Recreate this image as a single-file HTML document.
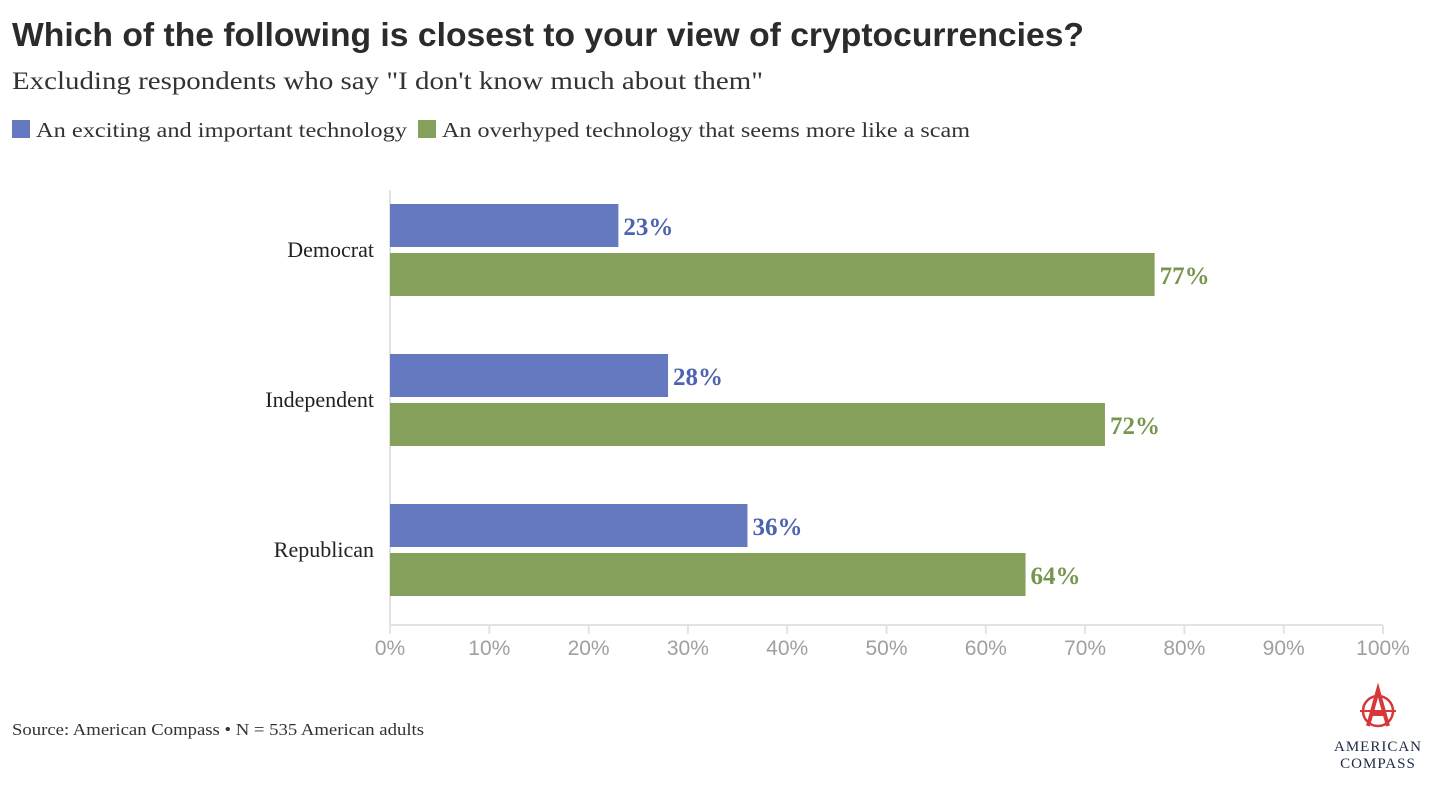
<!DOCTYPE html>
<html><head><meta charset="utf-8"><style>
body{margin:0;width:1456px;height:783px;background:#fff;overflow:hidden;font-family:"Liberation Serif",serif}
</style></head><body>
<svg width="1456" height="783" xmlns="http://www.w3.org/2000/svg">
<text x="12" y="46" font-family="Liberation Sans, sans-serif" font-weight="bold" font-size="33" fill="#2b2b2b" textLength="1072" lengthAdjust="spacingAndGlyphs">Which of the following is closest to your view of cryptocurrencies?</text>
<text x="12" y="89" font-size="25" fill="#333" textLength="751" lengthAdjust="spacingAndGlyphs">Excluding respondents who say "I don't know much about them"</text>
<g>
<rect x="12" y="120" width="18" height="18" fill="#6479bf"/>
<text x="36" y="137" font-size="21" fill="#333" textLength="371" lengthAdjust="spacingAndGlyphs">An exciting and important technology</text>
<rect x="418" y="120" width="18" height="18" fill="#84a05a"/>
<text x="442" y="137" font-size="21" fill="#333" textLength="528" lengthAdjust="spacingAndGlyphs">An overhyped technology that seems more like a scam</text>
</g>
<g id="plot"></g>
<text x="12" y="735" font-size="17" fill="#333" textLength="412" lengthAdjust="spacingAndGlyphs">Source: American Compass • N = 535 American adults</text>
<g>
<circle cx="1378" cy="711" r="15" fill="none" stroke="#d8383a" stroke-width="2.5"/>
<path d="M1360 711 L1396 711" stroke="#d8383a" stroke-width="2"/>
<path d="M1368 726 L1378 690 L1388 726 M1372 714 L1384 714" stroke="#d8383a" stroke-width="4" fill="none"/>
<text x="1378" y="751" text-anchor="middle" font-size="15" fill="#1d2a44" letter-spacing="1">AMERICAN</text>
<text x="1378" y="768" text-anchor="middle" font-size="15" fill="#1d2a44" letter-spacing="1">COMPASS</text>
</g>
</svg>
<script>
const categories=["Democrat","Independent","Republican"];
const excitingValues=[23,28,36];
const overhypedValues=[77,72,64];
const tickLabels=["0%","10%","20%","30%","40%","50%","60%","70%","80%","90%","100%"];
const NS="http://www.w3.org/2000/svg";
const g=document.getElementById("plot");
const x0=390,x1=1383,axisY=625;
const xs=v=>x0+(x1-x0)*v/100;
const groupTop=i=>204+i*150;
function el(t,a,txt){const e=document.createElementNS(NS,t);for(const k in a)e.setAttribute(k,a[k]);if(txt!=null)e.textContent=txt;g.appendChild(e);return e;}
const ax=el("line",{x1:x0,x2:x1,y1:axisY,y2:axisY,stroke:"#e3e3e3","stroke-width":2});


const vax=el("line",{x1:x0,x2:x0,y1:190,y2:axisY,stroke:"#e3e3e3","stroke-width":2});


tickLabels.forEach((t,i)=>{const x=xs(i*10);
const tk=el("line",{x1:x,x2:x,y1:axisY,y2:axisY+9,stroke:"#e3e3e3","stroke-width":2});


const tl=el("text",{x:x,y:655,"text-anchor":"middle","font-family":"Liberation Sans, sans-serif","font-size":21,fill:"#a0a0a0"},t);

});
categories.forEach((c,i)=>{const top=groupTop(i);
const cl=el("text",{x:374,y:top+53,"text-anchor":"end","font-size":22,fill:"#222"},c);


const b1=el("rect",{x:x0,y:top,width:xs(excitingValues[i])-x0,height:43,fill:"#6479bf"});


const v1=el("text",{x:xs(excitingValues[i])+5,y:top+31,"font-size":25,"font-weight":"bold",fill:"#4d63b0"},excitingValues[i]+"%");


const b2=el("rect",{x:x0,y:top+49,width:xs(overhypedValues[i])-x0,height:43,fill:"#84a05a"});


const v2=el("text",{x:xs(overhypedValues[i])+5,y:top+80,"font-size":25,"font-weight":"bold",fill:"#789550"},overhypedValues[i]+"%");

});
</script>
</body></html>
